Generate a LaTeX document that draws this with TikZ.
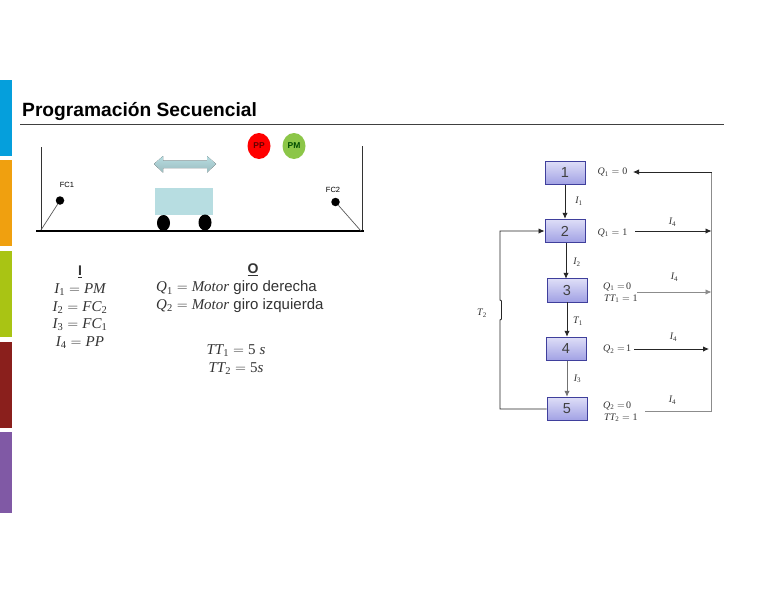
\documentclass[tikz,border=0pt]{standalone}
\usepackage{amsmath}
\usepackage{fontspec}
\setmainfont{Liberation Sans}
\newfontfamily\camfam[NFSSFamily=lserif]{Liberation Serif}
\DeclareMathAlphabet{\mv}{TU}{lserif}{m}{it}
\DeclareMathAlphabet{\mn}{TU}{lserif}{m}{n}
\usetikzlibrary{arrows.meta,shapes.geometric}
\definecolor{barblue}{HTML}{059FDC}
\definecolor{barorange}{HTML}{F0A00F}
\definecolor{bargreen}{HTML}{A9C414}
\definecolor{barred}{HTML}{8A1F1C}
\definecolor{barpurple}{HTML}{8059A5}
\definecolor{cartblue}{HTML}{B7DDE1}
\definecolor{statedraw}{HTML}{3F3F9C}
\definecolor{pmgreen}{HTML}{8CC648}
\tikzset{
  state/.style={draw=statedraw,line width=1pt,top color={rgb,255:red,222;green,222;blue,247},bottom color={rgb,255:red,160;green,160;blue,228},
    minimum width=40pt,minimum height=23.5pt,inner sep=0pt,font=\fontsize{14.5}{14.5}\selectfont,text=black!75},
  flow/.style={black!85,line width=.85pt,-{Latex[length=6pt,width=5.5pt]}},
  lbl/.style={inner sep=0pt,font=\fontsize{10}{10}\selectfont,text=black!80},
  eq/.style={inner sep=0pt,font=\fontsize{15}{15}\selectfont,text=black!80},
  head/.style={inner sep=0pt,font=\bfseries\fontsize{14}{15}\selectfont,text=black!80},
  wheel/.style={ellipse,fill=black,inner sep=0pt,minimum width=13pt,minimum height=16pt},
  btn/.style={ellipse,inner sep=0pt,minimum width=23pt,minimum height=26pt,font=\bfseries\fontsize{8.5}{8.5}\selectfont},
  sensor/.style={circle,fill=black,inner sep=0pt,minimum size=8.5pt},
  fc/.style={inner sep=0pt,font=\fontsize{7.5}{8}\selectfont,text=black},
}
\begin{document}
\begin{tikzpicture}[x=1pt,y=-1pt]
\useasboundingbox (0,0) rectangle (768,594);
\fill[white] (0,0) rectangle (768,594);
% side bars
\fill[barblue] (0,80) rectangle (11.5,156);
\fill[barorange] (0,160) rectangle (11.5,246);
\fill[bargreen] (0,251) rectangle (11.5,337);
\fill[barred] (0,342) rectangle (11.5,428);
\fill[barpurple] (0,432) rectangle (11.5,513);
% title
\node[anchor=base west,inner sep=0pt,font=\bfseries\fontsize{19.2}{19}\selectfont] (title) at (22,116) {Programación Secuencial};
\draw[black!75,line width=1pt] (20,124.5) -- (724,124.5);
% walls and floor
\draw[black!80,line width=.8pt] (41,147) -- (41,231);
\draw[black!80,line width=.8pt] (362.5,146) -- (362.5,231);
\draw[black,line width=2pt] (36,231) -- (364,231);
% limit switches
\coordinate (fcbase1) at (41,230);
\coordinate (fcbase2) at (361,231);
\node[sensor] (s1) at (60,200.5) {};
\node[sensor] (s2) at (335.5,202) {};
\draw[black!65,line width=.7pt] (fcbase1) -- (s1);
\draw[black!65,line width=.7pt] (fcbase2) -- (s2);
\node[fc] (fc1) at (67,185) {FC1};
\node[fc] (fc2) at (333,189.5) {FC2};
% buttons
\node[btn,fill=red,text=black!60!red] (pp) at (259,146) {PP};
\node[btn,fill=pmgreen,text=black!70!green] (pm) at (294,146) {PM};
% cart
\fill[cartblue] (155,188) rectangle (213,214.5);
\node[wheel] (w1) at (163.5,223) {};
\node[wheel] (w2) at (205,222.5) {};
\fill[top color=cartblue,bottom color=cartblue!85!black]
  (154,164) -- (163,156) -- (163,160.5) -- (207,160.5) -- (207,156) -- (216,164)
  -- (207,172.5) -- (207,168) -- (163,168) -- (163,172.5) -- cycle;
% inputs
\node[head] (ihead) at (80,272) {\underline{I}};
\node[eq] (i1) at (80,289.5) {$\mv{I}_{\mn{1}}=\mv{PM}$};
\node[eq] (i2) at (80,307.5) {$\mv{I}_{\mn{2}}=\mv{FC}_{\mn{2}}$};
\node[eq] (i3) at (80,325) {$\mv{I}_{\mn{3}}=\mv{FC}_{\mn{1}}$};
\node[eq] (i4) at (80,342.5) {$\mv{I}_{\mn{4}}=\mv{PP}$};
% outputs
\node[head] (ohead) at (253,270) {\underline{O}};
\node[eq,anchor=west] (o1) at (156,288) {$\mv{Q}_{\mn{1}}=\mv{Motor}$ giro derecha};
\node[eq,anchor=west] (o2) at (156,305.5) {$\mv{Q}_{\mn{2}}=\mv{Motor}$ giro izquierda};
\node[eq] (t1) at (236,351) {$\mv{TT}_{\mn{1}}=\mn{5}\;\mv{s}$};
\node[eq] (t2) at (236,369) {$\mv{TT}_{\mn{2}}=\mn{5}\mv{s}$};
% states
\node[state] (n1) at (565,173) {1};
\node[state] (n2) at (565,231) {2};
\node[state] (n3) at (567,290.5) {3};
\node[state] (n4) at (566,349) {4};
\node[state] (n5) at (567,409) {5};
\draw[flow] (n1.south) -- (n2.north);
\draw[flow] (n2.south -| n3.north) ++(-1,0) -- ++(0,35.5);
\draw[flow] (n3) ++(0,11.5) -- (n4.north -| n3.south);
\draw[flow,black!55] (n4.south -| n5.north) -- (n5.north);
% return loop T2
\coordinate (la) at (500,409);
\coordinate (lb) at (500,320);
\coordinate (lc) at (501.5,319);
\coordinate (ld) at (501.5,301);
\coordinate (le) at (500,300);
\coordinate (lf) at (500,231);
\draw[flow] (n5.west) -- (la) -- (lb) -- (lc) -- (ld) -- (le) -- (lf) -- (n2.west);
% I4 bus
\coordinate (b1) at (711.5,172);
\coordinate (b2) at (711.5,231);
\coordinate (b3) at (711.5,292);
\coordinate (b4) at (709,349);
\coordinate (b5) at (711.5,411);
\coordinate (f1) at (633,172);
\coordinate (f2) at (635,231);
\coordinate (f3) at (637,292);
\coordinate (f4) at (634,349);
\coordinate (f5) at (645,411);
\draw[black!45,line width=.9pt] (b1) -- (b5);
\draw[flow] (b1) -- (f1);
\draw[flow] (f2) -- (b2);
\draw[flow,black!45] (f3) -- (b3);
\draw[flow] (f4) -- (b4);
\draw[black!45,line width=.9pt] (f5) -- (b5);
% transition labels
\node[lbl] (li1) at (579,201) {$\mv{I}_{\mn{1}}$};
\node[lbl] (li2) at (577,262) {$\mv{I}_{\mn{2}}$};
\node[lbl] (lt1) at (578,321) {$\mv{T}_{\mn{1}}$};
\node[lbl] (li3) at (577.5,379) {$\mv{I}_{\mn{3}}$};
\node[lbl] (lt2) at (482,313) {$\mv{T}_{\mn{2}}$};
\node[lbl] (a1) at (672.5,222) {$\mv{I}_{\mn{4}}$};
\node[lbl] (a2) at (674.5,277) {$\mv{I}_{\mn{4}}$};
\node[lbl] (a3) at (673.5,337) {$\mv{I}_{\mn{4}}$};
\node[lbl] (a4) at (672.5,400) {$\mv{I}_{\mn{4}}$};
% action labels
\node[lbl] (q1) at (612.5,172) {$\mv{Q}_{\mn{1}}=\mn{0}$};
\node[lbl] (q2) at (612.5,232.5) {$\mv{Q}_{\mn{1}}=\mn{1}$};
\node[lbl,anchor=west] (q3) at (603,286.5) {$\mv{Q}_{\mn{1}}$ $=\!\mn{0}$};
\node[lbl,anchor=west] (q4) at (604,298.5) {$\mv{TT}_{\mn{1}}=\mn{1}$};
\node[lbl,anchor=west] (q5) at (603,349) {$\mv{Q}_{\mn{2}}$ $=\!\mn{1}$};
\node[lbl,anchor=west] (q6) at (603,405.5) {$\mv{Q}_{\mn{2}}$ $=\!\mn{0}$};
\node[lbl,anchor=west] (q7) at (604,417.5) {$\mv{TT}_{\mn{2}}=\mn{1}$};
\end{tikzpicture}
\end{document}
